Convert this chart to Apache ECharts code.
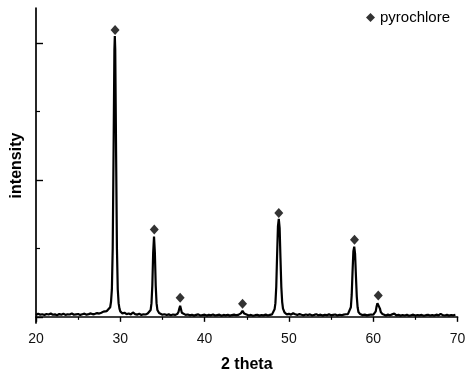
<!DOCTYPE html>
<html><head><meta charset="utf-8">
<script src="https://cdn.jsdelivr.net/npm/echarts@6/dist/echarts.min.js"></script>
<style>html,body{margin:0;padding:0;background:#fff}#c{width:474px;height:381px}</style>
</head><body><div id="c"></div>
<script>
// 2 theta values and intensities
const twoTheta = [
20,20.25,20.5,20.75,21,21.25,21.5,21.75,22,22.25,22.5,22.75,23,23.25,23.5,23.75,24,24.25,24.5,24.75,
25,25.25,25.5,25.75,26,26.25,26.5,26.75,27,27.25,27.5,27.75,28,28.2,28.4,28.6,28.8,28.9,29.0,29.1,29.2,
29.3,29.35,29.4,29.5,29.6,29.7,29.8,29.9,30.0,30.25,30.5,30.75,31,31.25,31.5,31.75,32,32.25,32.5,32.75,33,
33.25,33.6,33.7,33.8,33.9,34.0,34.1,34.2,34.3,34.4,34.6,34.8,35,35.25,35.5,35.75,36,36.25,36.5,36.75,36.9,
37.0,37.1,37.2,37.3,37.5,37.75,38,38.25,38.5,38.75,39,39.25,39.5,39.75,40,40.25,40.5,40.75,41,41.25,
41.5,41.75,42,42.25,42.5,42.75,43,43.25,43.5,43.75,44,44.2,44.3,44.4,44.5,44.6,44.7,44.9,45.25,45.5,
45.75,46,46.25,46.5,46.75,47,47.25,47.5,47.75,48,48.15,48.3,48.4,48.5,48.6,48.7,48.8,48.9,49.0,49.1,49.2,
49.3,49.5,49.75,50,50.25,50.5,50.75,51,51.25,51.5,51.75,52,52.25,52.5,52.75,53,53.25,53.5,53.75,54,
54.25,54.5,54.75,55,55.25,55.5,55.75,56,56.25,56.5,56.75,57,57.2,57.35,57.45,57.55,57.65,57.75,57.85,57.95,
58.05,58.15,58.25,58.45,58.7,59,59.25,59.5,59.75,60,60.2,60.3,60.4,60.5,60.6,60.7,60.8,60.9,61.1,61.25,
61.5,61.75,62,62.25,62.5,62.75,63,63.25,63.5,63.75,64,64.25,64.5,64.75,65,65.25,65.5,65.75,66,66.25,
66.5,66.75,67,67.25,67.5,67.75,68,68.25,68.5,68.75,69,69.25,69.5,69.75
];
const intensity = [
14,22,16,19,13,21,17,24,15,18,12,20,16,23,14,19,17,25,15,18,
21,14,19,23,16,20,25,18,22,27,24,30,38,50,42,45,70,110,200,500,1200,
1950,2050,1950,1200,500,200,100,60,40,25,30,20,24,18,32,20,16,22,14,19,17,
24,50,100,230,470,586,470,230,100,50,28,20,16,19,13,18,12,17,14,20,35,
60,80,55,30,18,14,17,11,15,9,14,18,10,13,16,9,14,11,17,10,
13,16,8,14,11,15,9,13,16,12,14,15,25,38,44,36,24,15,10,14,
8,12,15,9,13,11,16,10,14,18,30,55,100,220,450,660,715,650,430,220,110,
60,30,18,22,16,26,19,14,20,15,11,17,13,18,10,14,19,12,16,9,
15,12,18,11,14,17,10,15,12,16,19,20,30,70,160,330,480,513,460,300,
150,70,35,20,13,16,11,14,17,15,20,40,75,100,110,95,60,35,20,14,
10,16,12,18,24,11,14,9,13,10,15,8,12,16,9,13,11,14,8,12,
15,10,13,9,16,11,22,12,10,14,9,13,11,15
];
// pyrochlore markers
const peakPos = [29.38, 34.03, 37.1, 44.5, 48.8, 57.78, 60.6];
const peakMark = [2095, 637, 139, 95, 759, 562, 155];
const xTicks = [20, 30, 40, 50, 60, 70];
const yMajorTicks = [0, 1000, 2000];
const yMinorTicks = [500, 1500];

const lineData = twoTheta.map((x, i) => [x, intensity[i]]);
const markData = peakPos.map((x, i) => [x, peakMark[i]]);

const chart = echarts.init(document.getElementById('c'));
const font = 'Liberation Sans, Arial, sans-serif';
chart.setOption({
  backgroundColor: '#fff',
  animation: false,
  legend: {
    left: 361, top: 5,
    itemWidth: 9, itemHeight: 9, itemGap: 4,
    data: [{name: 'pyrochlore', icon: 'diamond'}],
    textStyle: {fontFamily: font, fontSize: 15, color: '#000'}
  },
  grid: {left: 36, right: 16.5, top: 8, bottom: 58},
  xAxis: {
    type: 'value', min: 20, max: 70, interval: 10,
    name: '2 theta', nameLocation: 'middle', nameGap: 34,
    nameTextStyle: {fontFamily: font, fontSize: 16, fontWeight: 'bold', color: '#000'},
    axisLine: {lineStyle: {color: '#000', width: 1.7}},
    axisTick: {length: 5, lineStyle: {color: '#000', width: 1.4}},
    minorTick: {show: true, splitNumber: 2, length: 3, lineStyle: {color: '#000', width: 1.2}},
    axisLabel: {fontFamily: font, fontSize: 14, color: '#111', margin: 9},
    splitLine: {show: false}
  },
  yAxis: [{
    type: 'value', min: -45, max: 2255,
    name: 'intensity', nameLocation: 'middle', nameGap: 11,
    nameTextStyle: {fontFamily: font, fontSize: 16, fontWeight: 'bold', color: '#000'},
    axisLine: {show: true, onZero: false, lineStyle: {color: '#000', width: 1.7}},
    axisTick: {show: true, inside: true, length: 7, customValues: yMajorTicks, lineStyle: {color: '#000', width: 1.4}},
    axisLabel: {show: false},
    splitLine: {show: false}
  }, {
    type: 'value', min: -45, max: 2255, position: 'left',
    axisLine: {show: false},
    axisTick: {show: true, inside: true, length: 4, customValues: yMinorTicks, lineStyle: {color: '#000', width: 1.2}},
    axisLabel: {show: false},
    splitLine: {show: false}
  }],
  series: [{
    type: 'line', data: lineData, showSymbol: false, symbol: 'none',
    lineStyle: {color: '#000', width: 2.2}, silent: true
  }, {
    name: 'pyrochlore', type: 'scatter', data: markData,
    symbol: 'diamond', symbolSize: [9, 10],
    itemStyle: {color: '#000'}
  }]
});
</script></body></html>
